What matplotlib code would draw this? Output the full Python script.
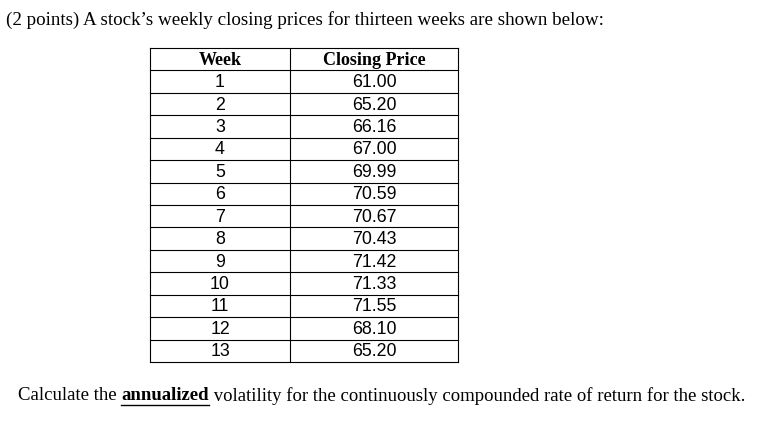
import matplotlib
matplotlib.use("Agg")
import matplotlib.pyplot as plt

weeks = [str(i) for i in range(1, 14)]
prices = ["61.00", "65.20", "66.16", "67.00", "69.99", "70.59", "70.67",
          "70.43", "71.42", "71.33", "71.55", "68.10", "65.20"]
headers = ["Week", "Closing Price"]
title = "(2 points) A stock\u2019s weekly closing prices for thirteen weeks are shown below:"
q_parts = ["Calculate the ", "annualized", " volatility for the continuously compounded rate of return for the stock."]

W, H = 759, 422
fig = plt.figure(figsize=(W/100, H/100), dpi=100)
ax = fig.add_axes([0, 0, 1, 1])
ax.set_xlim(0, W); ax.set_ylim(H, 0); ax.axis("off")

serif = "Liberation Serif"; sans = "Liberation Sans"
ax.text(6, 20, title, fontsize=13.7, family=serif, va="center", ha="left")

x0, xm, x1 = 150, 290, 458
y0, y1 = 48, 362
n = len(weeks) + 1
rh = (y1 - y0) / n
for i in range(n + 1):
    ax.plot([x0, x1], [y0 + i*rh]*2, color="black", lw=0.8)
for x in (x0, xm, x1):
    ax.plot([x, x], [y0, y1], color="black", lw=0.8)
cx = [(x0+xm)/2, (xm+x1)/2]
for j, h in enumerate(headers):
    ax.text(cx[j], y0 + rh/2 + 1, h, fontsize=13, family=serif, weight="bold", ha="center", va="center")
for i, (w, p) in enumerate(zip(weeks, prices)):
    yc = y0 + (i+1.5)*rh + 1
    ax.text(cx[0], yc, w, fontsize=12.8, family=sans, ha="center", va="center")
    ax.text(cx[1], yc, p, fontsize=12.8, family=sans, ha="center", va="center")

fig.canvas.draw()
r = fig.canvas.get_renderer()
x = 18
inv = ax.transData.inverted()
for k, part in enumerate(q_parts):
    t = ax.text(x, 396, part, fontsize=13.5, family=serif, va="center", ha="left",
                weight="bold" if k == 1 else "normal")
    bb = t.get_window_extent(r)
    (ax_, _), (bx, _) = inv.transform([[bb.x0, 0], [bb.x1, 0]])
    if k == 1:
        ax.plot([ax_, bx], [405, 405], color="black", lw=1)
    x = bx
fig.savefig("out.png", dpi=100)
